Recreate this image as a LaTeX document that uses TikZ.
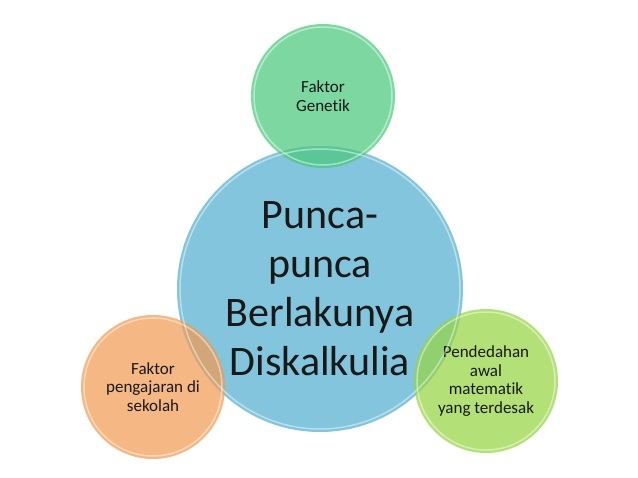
\documentclass[tikz,border=0pt]{standalone}
\usepackage{fontspec}
\setmainfont{Carlito}[Ligatures=NoCommon]
\usepackage{tikz}
\usetikzlibrary{shapes,backgrounds,positioning,fit}

\definecolor{BiruPusat}{RGB}{130,197,220}
\definecolor{HijauAtas}{RGB}{74,201,123}
\definecolor{Jingga}{RGB}{241,155,84}
\definecolor{HijauMuda}{RGB}{150,213,68}
\definecolor{Teks}{RGB}{25,25,25}

\begin{document}
\begin{tikzpicture}[x=1pt,y=-1pt]
				\tikzstyle{Bulatan}	= [circle, inner sep=0pt, align=center, text=Teks]
				\tikzstyle{Besar}	= [Bulatan, minimum size=286pt, fill=BiruPusat, font=\fontsize{42}{49}\selectfont]
				\tikzstyle{Kecil}	= [Bulatan, minimum size=144pt, fill opacity=0.72, text opacity=1, font=\fontsize{17}{18.5}\selectfont]
				\tikzstyle{Rim}		= [draw=white, draw opacity=0.45, line width=1.5pt]
				
				\useasboundingbox (0,0) rectangle (638,478);
				
				\node (punca) at (320,289) [Besar] {Punca-\\punca\\Berlakunya\\Diskalkulia};
				\node (genetik) at (323,96) [Kecil][fill=HijauAtas] {Faktor\\Genetik};
				\node (sekolah) at (153,387) [Kecil][fill=Jingga] {Faktor\\pengajaran di\\sekolah};
				\node (pendedahan) at (486,381) [Kecil][fill=HijauMuda] {Pendedahan\\awal\\matematik\\yang terdesak};
				
				\draw [Rim] (punca.center) circle (140pt);
				\draw [Rim] (genetik.center) circle (69pt);
				\draw [Rim] (sekolah.center) circle (69pt);
				\draw [Rim] (pendedahan.center) circle (69pt);
			\end{tikzpicture}
\end{document}
